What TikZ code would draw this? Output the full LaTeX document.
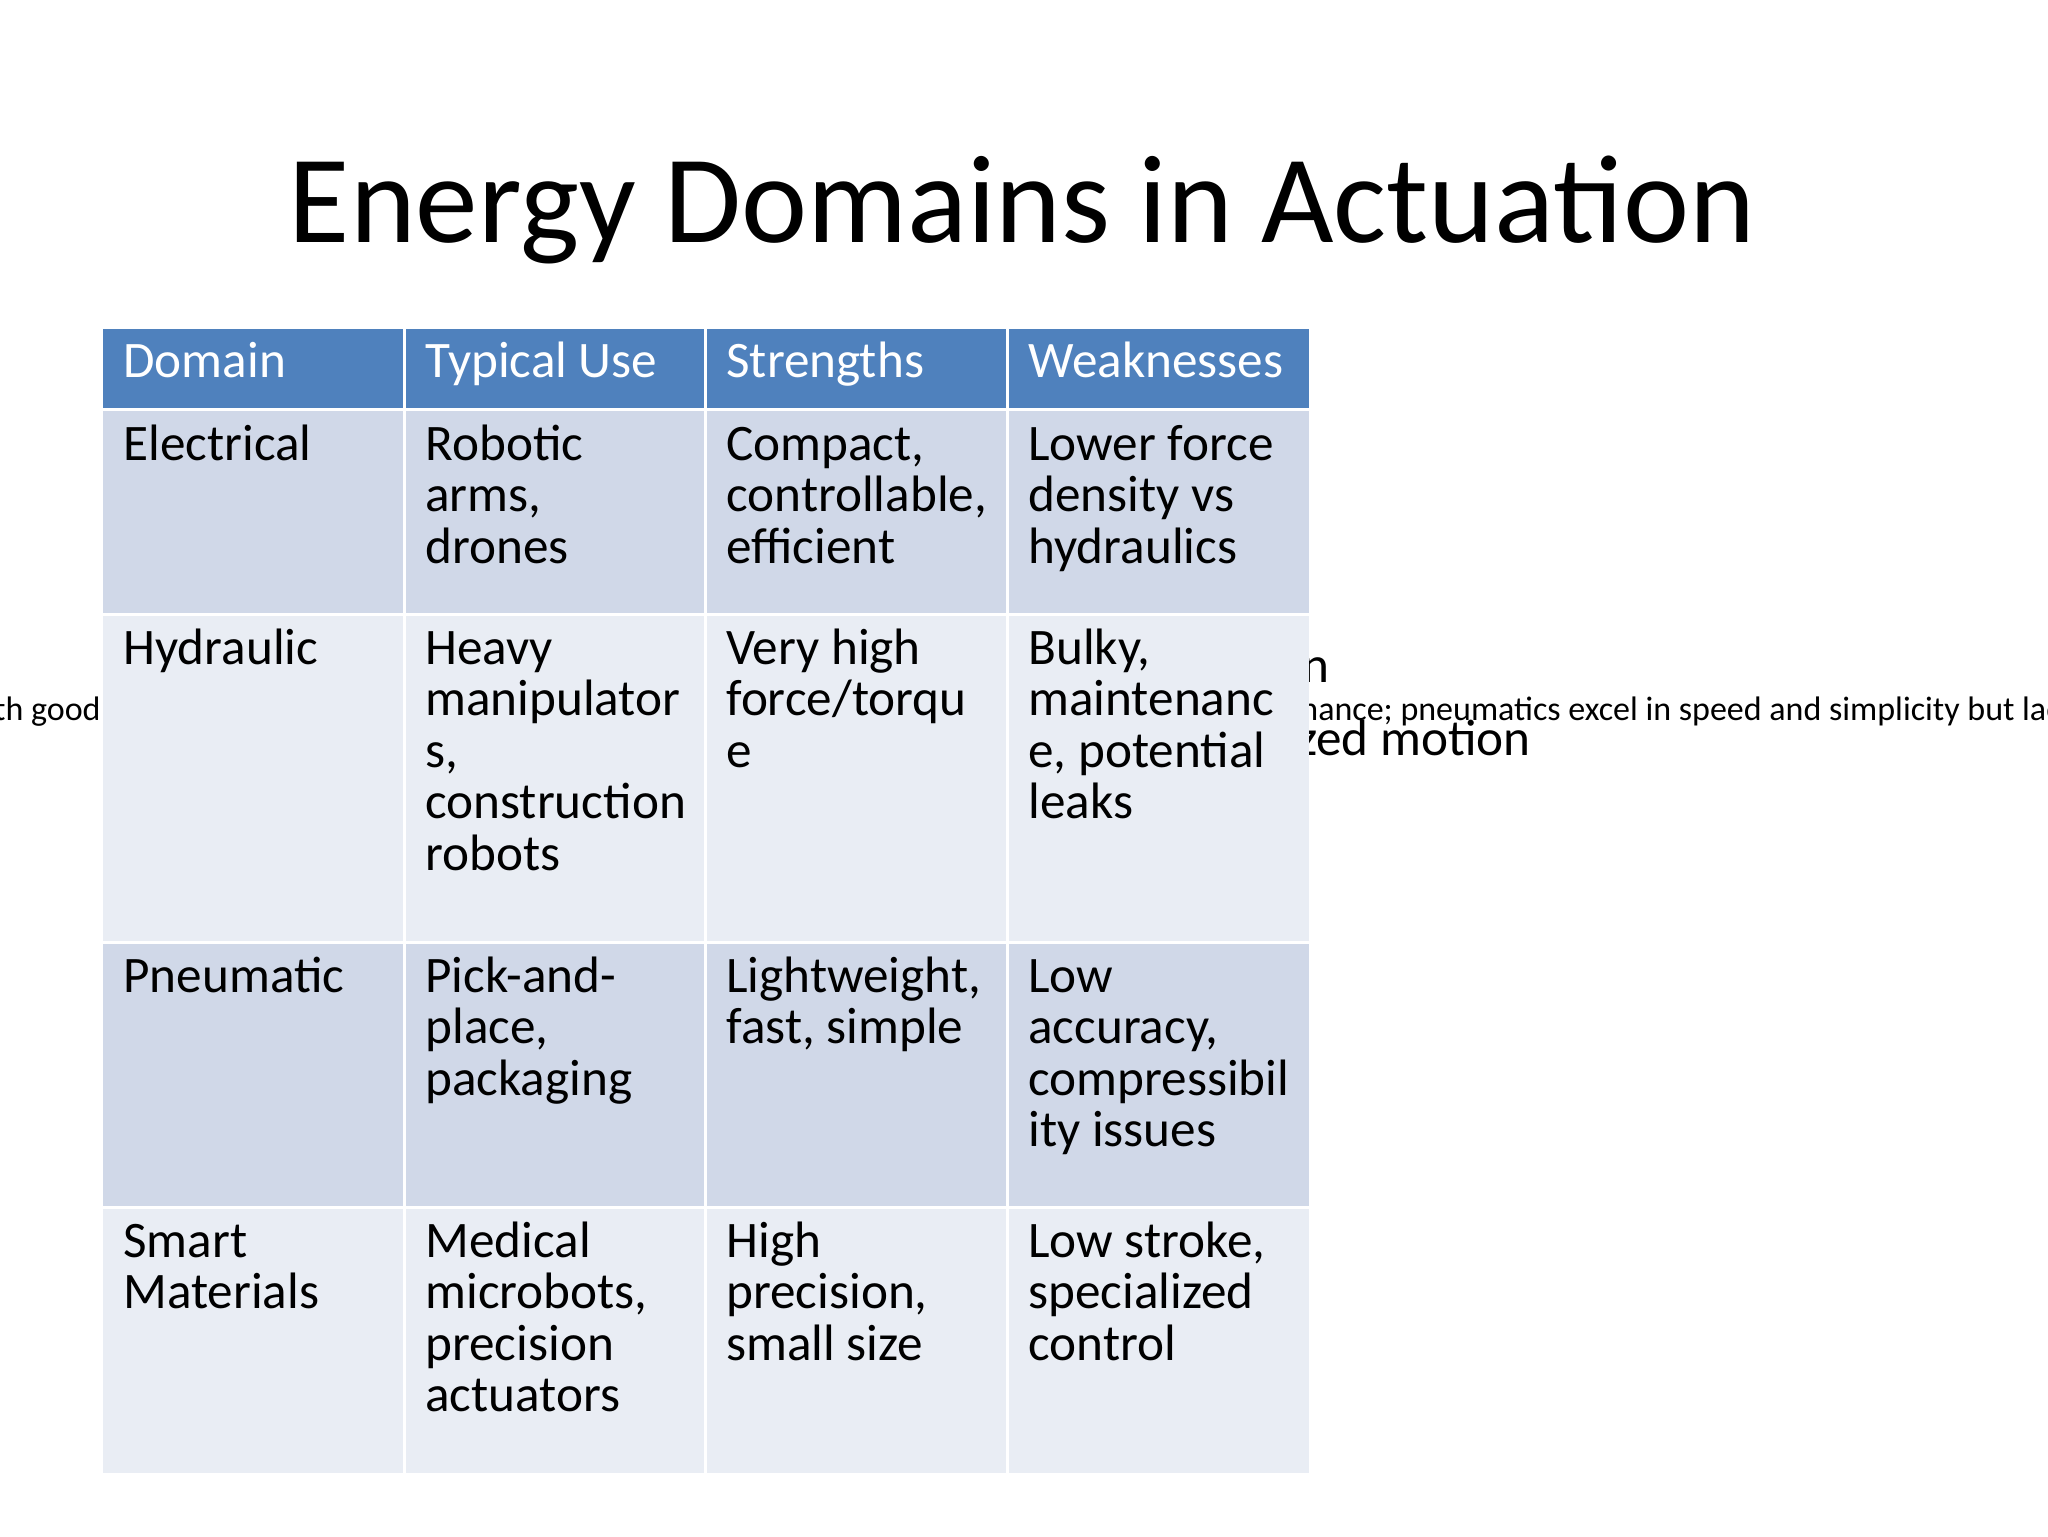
\documentclass[tikz,border=0pt]{standalone}
\usepackage{fontspec}
\setmainfont{Carlito}
\definecolor{hdr}{HTML}{4F81BD}
\definecolor{rowA}{HTML}{D0D8E8}
\definecolor{rowB}{HTML}{E9EDF4}
\newcommand{\cellfont}{\fontsize{25.6}{25.8}\selectfont}
\newcommand{\mycell}[3]{\node[anchor=base west,inner sep=0,text=#3] at (#1) {\parbox[t]{300pt}{\cellfont\raggedright #2}};}
\begin{document}
\begin{tikzpicture}[x=0.5pt,y=-0.5pt]
\useasboundingbox (0,0) rectangle (2048,1536);
\clip (0,0) rectangle (2048,1536);
\fill[white] (0,0) rectangle (2048,1536);
\node[anchor=base,inner sep=0,font=\fontsize{62.6}{66}\selectfont] (title) at (1022,242) {Energy Domains in Actuation};
% background text partly hidden by the table
\node[anchor=base east,inner sep=0,font=\fontsize{17}{20}\selectfont] (bgA) at (101,720) {with good};
\node[anchor=base west,inner sep=0,font=\fontsize{17}{20}\selectfont] (bgB) at (1300,720) {nance; pneumatics excel in speed and simplicity but lack};
\node[anchor=base east,inner sep=0,font=\cellfont] (bgC) at (1330,682) {tion};
\node[anchor=base east,inner sep=0,font=\cellfont] (bgD) at (1531,755) {specialized motion};
% table
\fill[hdr] (103,329) rectangle (1309,409);
\fill[rowA] (103,409) rectangle (1309,614);
\fill[rowB] (103,614) rectangle (1309,942);
\fill[rowA] (103,942) rectangle (1309,1207);
\fill[rowB] (103,1207) rectangle (1309,1473);
\foreach \x in {404,705,1007} \draw[white,line width=1.5pt] (\x,329) -- (\x,1473);
\foreach \y in {409,614,942,1207} \draw[white,line width=1.5pt] (103,\y) -- (1309,\y);
\mycell{123,377}{Domain}{white}
\mycell{425,377}{Typical Use}{white}
\mycell{726,377}{Strengths}{white}
\mycell{1028,377}{Weaknesses}{white}
\mycell{123,460}{Electrical}{black}
\mycell{425,460}{Robotic\\arms,\\drones}{black}
\mycell{726,460}{Compact,\\controllable,\\efficient}{black}
\mycell{1028,460}{Lower force\\density vs\\hydraulics}{black}
\mycell{123,664}{Hydraulic}{black}
\mycell{425,664}{Heavy\\manipulator\\s,\\construction\\robots}{black}
\mycell{726,664}{Very high\\force/torqu\\e}{black}
\mycell{1028,664}{Bulky,\\maintenanc\\e, potential\\leaks}{black}
\mycell{123,992}{Pneumatic}{black}
\mycell{425,992}{Pick-and-\\place,\\packaging}{black}
\mycell{726,992}{Lightweight,\\fast, simple}{black}
\mycell{1028,992}{Low\\accuracy,\\compressibil\\ity issues}{black}
\mycell{123,1257}{Smart\\Materials}{black}
\mycell{425,1257}{Medical\\microbots,\\precision\\actuators}{black}
\mycell{726,1257}{High\\precision,\\small size}{black}
\mycell{1028,1257}{Low stroke,\\specialized\\control}{black}
\end{tikzpicture}
\end{document}
